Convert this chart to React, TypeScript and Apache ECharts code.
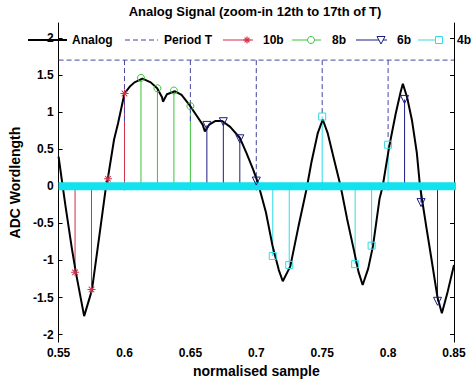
import React, { useEffect, useRef } from 'react';
import * as echarts from 'echarts';

const xTicks = [0.55, 0.6, 0.65, 0.7, 0.75, 0.8, 0.85];
const yTicks = [-2, -1.5, -1, -0.5, 0, 0.5, 1, 1.5, 2];

const analogX = [
  0.55, 0.5525, 0.5552, 0.5601, 0.5631, 0.5694, 0.5753, 0.581, 0.586, 0.5875, 0.5921, 0.595,
  0.6, 0.6039, 0.6076, 0.6137, 0.6199, 0.6248, 0.6285, 0.6292, 0.6322, 0.6384, 0.6433, 0.6495,
  0.6544, 0.6593, 0.661, 0.6643, 0.6691, 0.6741, 0.6802, 0.6876, 0.6925, 0.6975, 0.7012,
  0.7073, 0.7123, 0.7171, 0.7201, 0.7258, 0.7319, 0.7381, 0.7418, 0.7467, 0.7504, 0.7541,
  0.759, 0.764, 0.7689, 0.7738, 0.7775, 0.7807, 0.7849, 0.7886, 0.7935, 0.7959, 0.8009,
  0.8058, 0.8095, 0.8112, 0.8144, 0.8181, 0.8218, 0.8242, 0.8292, 0.8329, 0.8375, 0.8408,
  0.8452, 0.85,
];
const analogY = [
  0.4, 0.08, -0.26, -0.84, -1.16, -1.75, -1.4, -0.66, 0.0, 0.12, 0.63, 0.84,
  1.25, 1.34, 1.4, 1.45, 1.4, 1.32, 1.2, 1.14, 1.24, 1.28, 1.23, 1.09,
  0.96, 0.83, 0.74, 0.83, 0.88, 0.88, 0.8, 0.65, 0.45, 0.23, 0.05,
  -0.35, -0.8, -1.13, -1.28, -1.08, -0.55, -0.04, 0.32, 0.72, 0.9, 0.72,
  0.36, 0.0, -0.44, -0.84, -1.15, -1.33, -1.11, -0.8, -0.17, 0.0, 0.54,
  0.98, 1.27, 1.38, 1.2, 0.89, 0.45, 0.0, -0.57, -0.98, -1.5, -1.71,
  -1.42, -1.06,
];

const b10X = [0.5625, 0.575, 0.5875, 0.6];
const b10Y = [-1.16, -1.39, 0.1, 1.25];
const b8X = [0.6125, 0.625, 0.6375, 0.65];
const b8Y = [1.46, 1.32, 1.29, 1.08];
const b6X = [0.6625, 0.675, 0.6875, 0.7, 0.8125, 0.825, 0.8375];
const b6Y = [0.82, 0.87, 0.64, 0.07, 1.17, -0.22, -1.55];
const b4X = [0.7125, 0.725, 0.75, 0.775, 0.7875, 0.8];
const b4Y = [-0.94, -1.06, 0.94, -1.05, -0.8, 0.56];

const periodX = [0.6, 0.65, 0.7, 0.75, 0.8];
const periodBottom = [0.87, 0.87, 0.09, 0.97, 0.62];
const periodLevel = 1.7;
const periodSpan = [0.55, 0.85];
const baselineSpan = [0.55, 0.8515];

const FONT = '"Liberation Sans", Arial, Helvetica, sans-serif';
const C10 = '#d03048';
const C8 = '#3cc43c';
const C6 = '#1c1c84';
const C4 = '#30dce6';
const CP = '#4444a4';
const BAND = '#12e2ee';

const zip = (xs: number[], ys: number[]) => xs.map((x, i) => [x, ys[i]]);

const STAR =
  'path://M4.4,0L5.6,0L5.6,10L4.4,10Z M0,4.4L10,4.4L10,5.6L0,5.6Z M1.08,1.92L1.92,1.08L8.92,8.08L8.08,8.92Z M8.08,1.08L8.92,1.92L1.92,8.92L1.08,8.08Z';

function stemSeries(name: string, xs: number[], ys: number[], color: string) {
  return {
    type: 'custom',
    name,
    z: 2,
    data: zip(xs, ys),
    renderItem: (params: any, api: any) => {
      const x = api.value(0);
      const y = api.value(1);
      const p0 = api.coord([x, 0]);
      const p1 = api.coord([x, y]);
      return {
        type: 'line',
        shape: { x1: p0[0], y1: p0[1], x2: p1[0], y2: p1[1] },
        style: { stroke: color, lineWidth: 1 },
      };
    },
  };
}

function markerSeries(name: string, xs: number[], ys: number[], color: string, symbol: string, size: number, rotate = 0, filled = false) {
  return {
    type: 'scatter',
    name,
    z: 6,
    symbol,
    symbolSize: size,
    symbolRotate: rotate,
    data: zip(xs, ys),
    itemStyle: filled
      ? { color, opacity: 1 }
      : { color: 'rgba(0,0,0,0)', borderColor: color, borderWidth: 1, opacity: 1 },
  };
}

function legendGraphics() {
  const cy = 40;
  const els: any[] = [];
  const txt = (x: number, t: string) =>
    els.push({
      type: 'text',
      x,
      y: cy,
      style: { text: t, font: `bold 12px ${FONT}`, fill: '#000', verticalAlign: 'middle', align: 'left' },
      z: 100,
    });
  const ln = (x1: number, x2: number, stroke: string, w = 1, dash: any = null) =>
    els.push({
      type: 'line',
      shape: { x1, y1: cy, x2, y2: cy },
      style: { stroke, lineWidth: w, lineDash: dash },
      z: 100,
    });
  ln(28, 67, '#000', 2);
  txt(72, 'Analog');
  ln(125, 158, CP, 1, [5, 3]);
  txt(164, 'Period T');
  ln(223, 253, C10);
  const s = 3.5;
  const sx = 247;
  [[-s, 0, s, 0], [0, -s, 0, s], [-s * 0.7, -s * 0.7, s * 0.7, s * 0.7], [-s * 0.7, s * 0.7, s * 0.7, -s * 0.7]].forEach((d) =>
    els.push({
      type: 'line',
      shape: { x1: sx + d[0], y1: cy + d[1], x2: sx + d[2], y2: cy + d[3] },
      style: { stroke: C10, lineWidth: 1.2 },
      z: 101,
    })
  );
  txt(263, '10b');
  ln(292, 321, C8);
  els.push({ type: 'circle', shape: { cx: 311, cy, r: 3.5 }, style: { fill: '#fff', stroke: C8, lineWidth: 1 }, z: 101 });
  txt(332, '8b');
  ln(356, 387, C6);
  els.push({
    type: 'polygon',
    shape: { points: [[377, cy - 3.5], [385, cy - 3.5], [381, cy + 4]] },
    style: { fill: '#fff', stroke: C6, lineWidth: 1 },
    z: 101,
  });
  txt(397, '6b');
  ln(418, 443, C4);
  els.push({ type: 'rect', shape: { x: 435.5, y: cy - 3.5, width: 7, height: 7 }, style: { fill: '#fff', stroke: C4, lineWidth: 1 }, z: 101 });
  txt(457, '4b');
  return els;
}

export default function App() {
  const ref = useRef<HTMLDivElement>(null);
  useEffect(() => {
    if (!ref.current) return;
    const chart = echarts.init(ref.current, null, { renderer: 'svg' });
    const axisLine = { show: true, lineStyle: { color: '#000', width: 1 } };
    const labelStyle = { color: '#000', fontWeight: 'bold', fontSize: 12, fontFamily: FONT };
    const nameStyle = { color: '#000', fontWeight: 'bold', fontSize: 14, fontFamily: FONT };
    const option: any = {
      animation: false,
      backgroundColor: '#fff',
      title: {
        text: 'Analog Signal (zoom-in 12th to 17th of T)',
        left: 250,
        textAlign: 'center',
        top: 0,
        textStyle: { color: '#000', fontWeight: 'bold', fontSize: 13, fontFamily: FONT },
      },
      grid: { left: 47, right: 20, top: 23, bottom: 39 },
      xAxis: [
        {
          type: 'value',
          min: 0.55,
          max: 0.85,
          position: 'bottom',
          axisLine,
          axisTick: { show: true, inside: true, length: 4, customValues: xTicks, lineStyle: { color: '#000' } },
          axisLabel: { show: true, customValues: xTicks, formatter: (v: number) => String(v), margin: 5, ...labelStyle },
          splitLine: { show: false },
          name: 'normalised sample',
          nameLocation: 'middle',
          nameGap: 20,
          nameTextStyle: nameStyle,
        },
        {
          type: 'value',
          min: 0.55,
          max: 0.85,
          position: 'top',
          axisLine,
          axisTick: { show: true, inside: true, length: 4, customValues: xTicks, lineStyle: { color: '#000' } },
          axisLabel: { show: false },
          splitLine: { show: false },
        },
      ],
      yAxis: [
        {
          type: 'value',
          min: -2.1,
          max: 2.2,
          position: 'left',
          axisLine,
          axisTick: { show: true, inside: true, length: 4, customValues: yTicks, lineStyle: { color: '#000' } },
          axisLabel: { show: true, customValues: yTicks, formatter: (v: number) => String(v), margin: 5, ...labelStyle },
          splitLine: { show: false },
          name: 'ADC Wordlength',
          nameLocation: 'middle',
          nameGap: 30,
          nameTextStyle: nameStyle,
        },
        {
          type: 'value',
          min: -2.1,
          max: 2.2,
          position: 'right',
          axisLine,
          axisTick: { show: true, inside: true, length: 4, customValues: yTicks, lineStyle: { color: '#000' } },
          axisLabel: { show: false },
          splitLine: { show: false },
        },
      ],
      graphic: legendGraphics(),
      series: [
        stemSeries('10b', b10X, b10Y, C10),
        stemSeries('8b', b8X, b8Y, C8),
        stemSeries('6b', b6X, b6Y, C6),
        stemSeries('4b', b4X, b4Y, C4),
        {
          type: 'line',
          name: 'Period T',
          z: 3,
          symbol: 'none',
          data: periodSpan.map((x) => [x, periodLevel]),
          lineStyle: { color: CP, width: 1, type: [5, 3] },
        },
        {
          type: 'custom',
          name: 'Period T',
          z: 3,
          data: zip(periodX, periodBottom),
          renderItem: (params: any, api: any) => {
            const x = api.value(0);
            const p0 = api.coord([x, periodLevel]);
            const p1 = api.coord([x, api.value(1)]);
            return {
              type: 'line',
              shape: { x1: p0[0], y1: p0[1], x2: p1[0], y2: p1[1] },
              style: { stroke: CP, lineWidth: 1, lineDash: [5, 3] },
            };
          },
        },
        {
          type: 'line',
          name: 'Analog',
          z: 4,
          symbol: 'none',
          data: zip(analogX, analogY),
          lineStyle: { color: '#000', width: 2 },
        },
        {
          type: 'line',
          name: 'baseline',
          z: 5,
          symbol: 'none',
          clip: false,
          data: baselineSpan.map((x) => [x, 0]),
          lineStyle: { color: BAND, width: 8, cap: 'butt' },
        },
        markerSeries('10b', b10X, b10Y, C10, STAR, 8, 0, true),
        markerSeries('8b', b8X, b8Y, C8, 'circle', 7),
        markerSeries('6b', b6X, b6Y, C6, 'triangle', 8, 180),
        markerSeries('4b', b4X, b4Y, C4, 'rect', 7),
      ],
    };
    chart.setOption(option);
    return () => chart.dispose();
  }, []);
  return <div ref={ref} style={{ position: 'absolute', left: 0, top: 0, width: 474, height: 383 }} />;
}
